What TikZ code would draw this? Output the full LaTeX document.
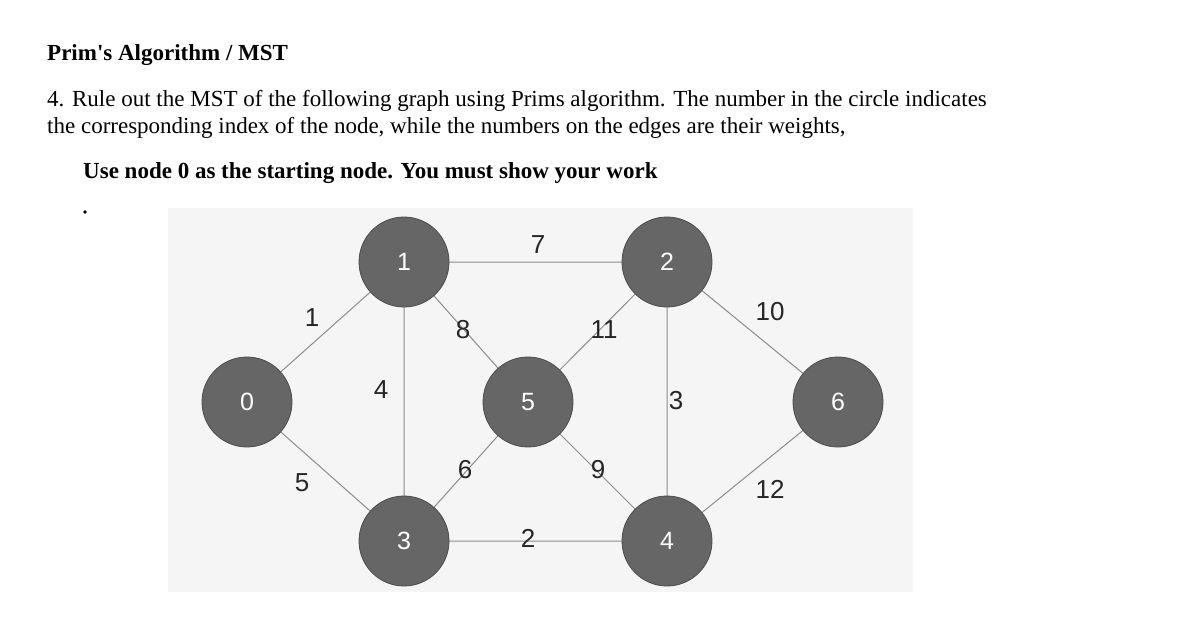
\documentclass[tikz,border=0pt]{standalone}
\usepackage{fontspec}
\setmainfont{Liberation Serif}
\newfontfamily\gf{Liberation Sans}
\begin{document}
\begin{tikzpicture}[x=1pt,y=-1pt,
  vtx/.style={circle,fill=black!60,draw=black!70,line width=0.8pt,minimum size=90pt,inner sep=0pt,text=white,font=\gf\fontsize{25}{25}\selectfont},
  edge/.style={draw=black!45,line width=1pt},
  wt/.style={font=\gf\fontsize{26}{26}\selectfont,text=black!85},
  txt/.style={anchor=west,inner sep=0pt,font=\fontsize{23}{25}\selectfont}]
\useasboundingbox (0,0) rectangle (1203,629);
\fill[white] (0,0) rectangle (1203,629);
\fill[black!4] (168,208) rectangle (913,592);
\node[txt,font=\bfseries\fontsize{23}{25}\selectfont] (t0) at (47,55) {Prim\textquotesingle s Algorithm / MST};
\node[txt] (t1) at (47,101) {4. Rule out the MST of the following graph using Prims algorithm. The number in the circle indicates};
\node[txt] (t2) at (47,128) {the corresponding index of the node, while the numbers on the edges are their weights,};
\node[txt,font=\bfseries\fontsize{23}{25}\selectfont] (t3) at (83,173) {Use node 0 as the starting node. You must show your work};
\fill (85,212) circle (1.8);
\path[edge] (247,402)--(404,262) (247,402)--(404,541) (404,262)--(404,541) (404,262)--(667,262) (404,262)--(528,402) (667,262)--(528,402) (667,262)--(667,541) (667,262)--(838,402) (404,541)--(528,402) (404,541)--(667,541) (528,402)--(667,541) (667,541)--(838,402);
\node[vtx] (n0) at (247,402) {0};
\node[vtx] (n1) at (404,262) {1};
\node[vtx] (n2) at (667,262) {2};
\node[vtx] (n3) at (404,541) {3};
\node[vtx] (n4) at (667,541) {4};
\node[vtx] (n5) at (528,402) {5};
\node[vtx] (n6) at (838,402) {6};
\node[wt] (w1) at (312,318) {1};
\node[wt] (w4) at (381,390) {4};
\node[wt] (w5) at (302,483) {5};
\node[wt] (w8) at (463,330) {8};
\node[wt] (w11) at (604,330) {11};
\node[wt] (w6) at (465,470) {6};
\node[wt] (w9) at (598,470) {9};
\node[wt] (w2) at (528,538) {2};
\node[wt] (w3) at (676,401) {3};
\node[wt] (w10) at (770,312) {10};
\node[wt] (w12) at (770,489) {12};
\node[wt] (w7) at (538,245) {7};
\end{tikzpicture}
\end{document}
